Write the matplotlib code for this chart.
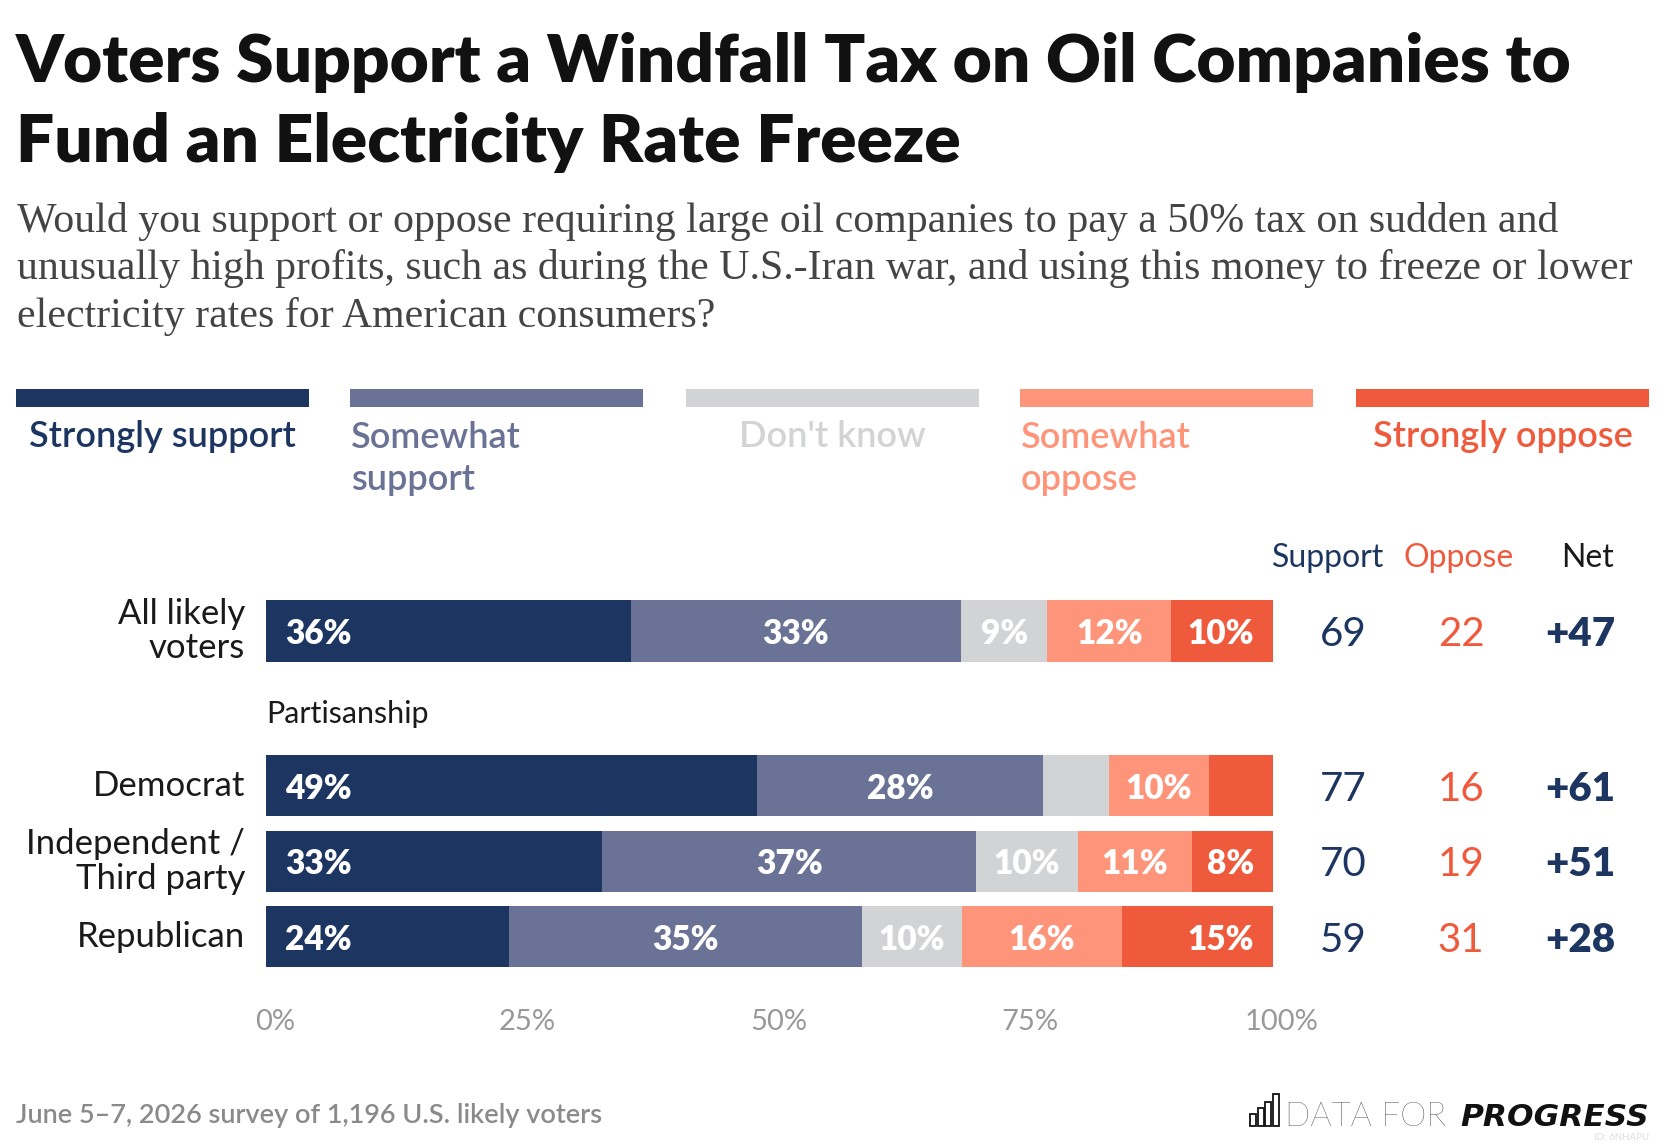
import numpy as np
import matplotlib.pyplot as plt
from matplotlib.patches import Rectangle
from matplotlib import transforms

W, H = 1666, 1146

groups = ['All likely\nvoters', 'Democrat', 'Independent /\nThird party', 'Republican']
legend_labels = ['Strongly support', 'Somewhat\nsupport', "Don't know", 'Somewhat\noppose', 'Strongly oppose']

# shares (labels are the rounded values)
strongly_support = [36.2, 48.8, 33.4, 24.1]
somewhat_support = [32.8, 28.4, 37.1, 35.1]
dont_know = [8.6, 6.5, 10.1, 9.9]
somewhat_oppose = [12.3, 9.9, 11.4, 15.9]
strongly_oppose = [10.1, 6.4, 8.0, 15.0]

support_total = [69, 77, 70, 59]
oppose_total = [22, 16, 19, 31]

colors = ['#1d3661', '#6a7395', '#d2d3d5', '#fe9479', '#f05a3c']
navy, red = colors[0], colors[4]

plt.rcParams['font.family'] = ['Lato', 'DejaVu Sans']


def fx(x):
    return x / W


def fy(y):
    return 1 - y / H


fig = plt.figure(figsize=(W / 100, H / 100), dpi=100)

# title and question
title = ['Voters Support a Windfall Tax on Oil Companies to', 'Fund an Electricity Rate Freeze']
for line, y in zip(title, [82, 162]):
    fig.text(fx(16), fy(y), line, fontsize=48.6, fontweight='heavy', color='#111111', va='baseline')

question = ['Would you support or oppose requiring large oil companies to pay a 50% tax on sudden and',
            'unusually high profits, such as during the U.S.-Iran war, and using this money to freeze or lower',
            'electricity rates for American consumers?']
for line, y in zip(question, [232, 279, 327]):
    fig.text(fx(17), fy(y), line, fontsize=30.2, family='Liberation Serif', color='#444444', va='baseline')

# legend blocks
leg_left = [16, 350, 686, 1020, 1356]
leg_w = 293
for lbl, c, x in zip(legend_labels, colors, leg_left):
    fig.add_artist(Rectangle((fx(x), fy(407)), leg_w / W, 18 / H, transform=fig.transFigure,
                             color=c, lw=0))
    if '\n' in lbl:
        # wrapped labels sit flush left under the block
        fig.text(fx(x + 1), fy(421), lbl, fontsize=26, fontweight='semibold', color=c,
                 va='top', ha='left', linespacing=1.33)
    else:
        fig.text(fx(x + leg_w / 2), fy(447), lbl, fontsize=26, fontweight='semibold', color=c,
                 va='baseline', ha='center')

# bars
rows = np.array([0, 2.05, 3.05, 4.05])
ax = fig.add_axes([fx(266), fy(978.3), 1007 / W, 388.8 / H])
series = [strongly_support, somewhat_support, dont_know, somewhat_oppose, strongly_oppose]
left = np.zeros(len(groups))
for k, (vals, c) in enumerate(zip(series, colors)):
    vals = np.array(vals)
    ax.barh(rows, vals, left=left, height=0.81, color=c, lw=0)
    for r, v, l in zip(rows, vals, left):
        if v < 7:
            continue
        txt = f'{v:.0f}%'
        kw = dict(va='center_baseline', color='white', fontsize=24, fontweight='heavy')
        if k == 0:
            ax.annotate(txt, (l, r), xytext=(19, 0), textcoords='offset pixels', ha='left', **kw)
        elif k == len(series) - 1:
            ax.annotate(txt, (l + v, r), xytext=(-19, 0), textcoords='offset pixels', ha='right', **kw)
        else:
            ax.text(l + v / 2, r, txt, ha='center', **kw)
    left += vals

ax.set_xlim(0, 100)
ax.set_ylim(4.6, -0.55)
ax.axis('off')

# row labels
for g, r in zip(groups, rows):
    ax.annotate(g, (0, r), xytext=(-21, 0), textcoords='offset pixels', ha='right', va='center',
                fontsize=25, color='#1a1a1a', linespacing=1.1)
ax.annotate('Partisanship', (0, 1.1), ha='left', va='center', fontsize=22, color='#1a1a1a')

# x tick labels, under the axes
tick_tr = transforms.offset_copy(ax.get_xaxis_transform(), fig=fig, x=9, y=-44, units='dots')
for v in [0, 25, 50, 75, 100]:
    ax.text(v, 0, f'{v}%', transform=tick_tr, ha='center', va='center', fontsize=21,
            color='#999999')

# support / oppose / net columns
col_tr = transforms.blended_transform_factory(fig.transFigure, ax.transData)
net = np.array(support_total) - np.array(oppose_total)
for r, s, o, n in zip(rows, support_total, oppose_total, net):
    ax.text(fx(1343), r, str(s), transform=col_tr, ha='center', va='center_baseline', fontsize=29,
            color=navy)
    ax.text(fx(1461), r, str(o), transform=col_tr, ha='center', va='center_baseline', fontsize=29,
            color=red)
    ax.text(fx(1580), r, f'+{n}', transform=col_tr, ha='center', va='center_baseline', fontsize=29,
            fontweight='heavy', color=navy)
for lbl, x, c in zip(['Support', 'Oppose', 'Net'], [1328, 1459, 1587], [navy, red, '#1a1a1a']):
    fig.text(fx(x), fy(567), lbl, ha='center', va='baseline', fontsize=23, color=c)

# footer
fig.text(fx(16), fy(1123), 'June 5\u20137, 2026 survey of 1,196 U.S. likely voters', fontsize=19.5,
         fontweight='semibold', color='#8a8a8a', va='baseline')

fig.text(fx(1649), fy(1126), 'PROGRESS', fontsize=22.5, fontweight='bold', style='italic',
         family='DejaVu Sans', color='#111111', ha='right', va='baseline')
fig.text(fx(1446), fy(1126), 'DATA FOR', fontsize=24, fontweight='light', color='#111111',
         ha='right', va='baseline')
# little bar chart icon of the logo
for i, h in enumerate([12, 18, 24, 32]):
    fig.add_artist(Rectangle((fx(1250 + i * 7.5), fy(1126)), 6 / W, h / H, transform=fig.transFigure,
                             fill=False, ec='#111111', lw=1.3))
fig.text(fx(1649), fy(1140), 'ID: 6NHAPU', fontsize=7, color='#dddddd', ha='right', va='baseline')

fig.savefig('out.png', dpi=100, facecolor='white')
